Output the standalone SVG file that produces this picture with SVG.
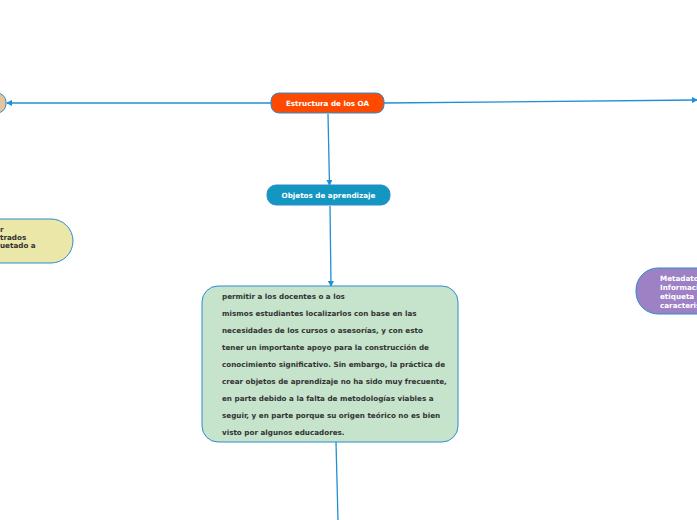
<svg xmlns="http://www.w3.org/2000/svg" width="697" height="520" viewBox="0 0 697 520">
<style>
text{font-family:"DejaVu Sans",Verdana,sans-serif;font-weight:bold;font-size:7.2px}
.c{stroke:#1f8fd6;stroke-width:1.3;fill:none}
.w{fill:#fff}
.d{fill:#333}
</style>
<defs><marker id="a" markerWidth="6" markerHeight="6" refX="5" refY="3" orient="auto" markerUnits="userSpaceOnUse"><path d="M0,0L6,3L0,6z" fill="#1f8fd6"/></marker></defs>
<rect width="697" height="520" fill="#fff"/>
<g id="connectors">
<line class="c" x1="271" y1="103" x2="7" y2="103" marker-end="url(#a)"/>
<line class="c" x1="384" y1="103" x2="697" y2="100" marker-end="url(#a)"/>
<line class="c" x1="328" y1="114" x2="329.5" y2="185" marker-end="url(#a)"/>
<line class="c" x1="330" y1="206" x2="331" y2="286" marker-end="url(#a)"/>
<line class="c" x1="336" y1="442" x2="338" y2="520"/>
</g>
<g id="root"><rect x="271" y="93" width="113" height="20" rx="8" fill="#fe4a00" stroke="#2a8cd0"/><text class="w" x="327.5" y="106" text-anchor="middle">Estructura de los OA</text></g>
<g id="left"><rect x="-30" y="93" width="36" height="20" rx="9" fill="#e7c49c" stroke="#2a8cd0"/></g>
<g id="objetos"><rect x="267" y="185" width="123" height="20" rx="9" fill="#1396c0" stroke="#2a8cd0"/><text class="w" x="328.5" y="198" text-anchor="middle">Objetos de aprendizaje</text></g>
<g id="yellow"><rect x="-60" y="219" width="133" height="44" rx="22" fill="#eae7a8" stroke="#2a8cd0"/>
<text class="d" x="0" y="232">r</text><text class="d" x="0" y="240">trados</text><text class="d" x="0" y="248">uetado a</text></g>
<g id="purple"><rect x="636" y="268" width="100" height="46" rx="22" fill="#9e81c4" stroke="#2a8cd0"/>
<text class="w" x="660" y="281">Metadato</text><text class="w" x="660" y="290">Informaci</text><text class="w" x="660" y="299">etiqueta c</text><text class="w" x="660" y="308">caracteris</text></g>
<g id="green"><rect x="202" y="286" width="256" height="156" rx="16" fill="#c5e4cb" stroke="#2a8cd0"/>
<g class="d">
<text x="222" y="299">permitir a los docentes o a los</text>
<text x="222" y="316">mismos estudiantes localizarlos con base en las</text>
<text x="222" y="333">necesidades de los cursos o asesorías, y con esto</text>
<text x="222" y="350">tener un importante apoyo para la construcción de</text>
<text x="222" y="367">conocimiento significativo. Sin embargo, la práctica de</text>
<text x="222" y="384">crear objetos de aprendizaje no ha sido muy frecuente,</text>
<text x="222" y="401">en parte debido a la falta de metodologías viables a</text>
<text x="222" y="418">seguir, y en parte porque su origen teórico no es bien</text>
<text x="222" y="435">visto por algunos educadores.</text>
</g></g>
</svg>
